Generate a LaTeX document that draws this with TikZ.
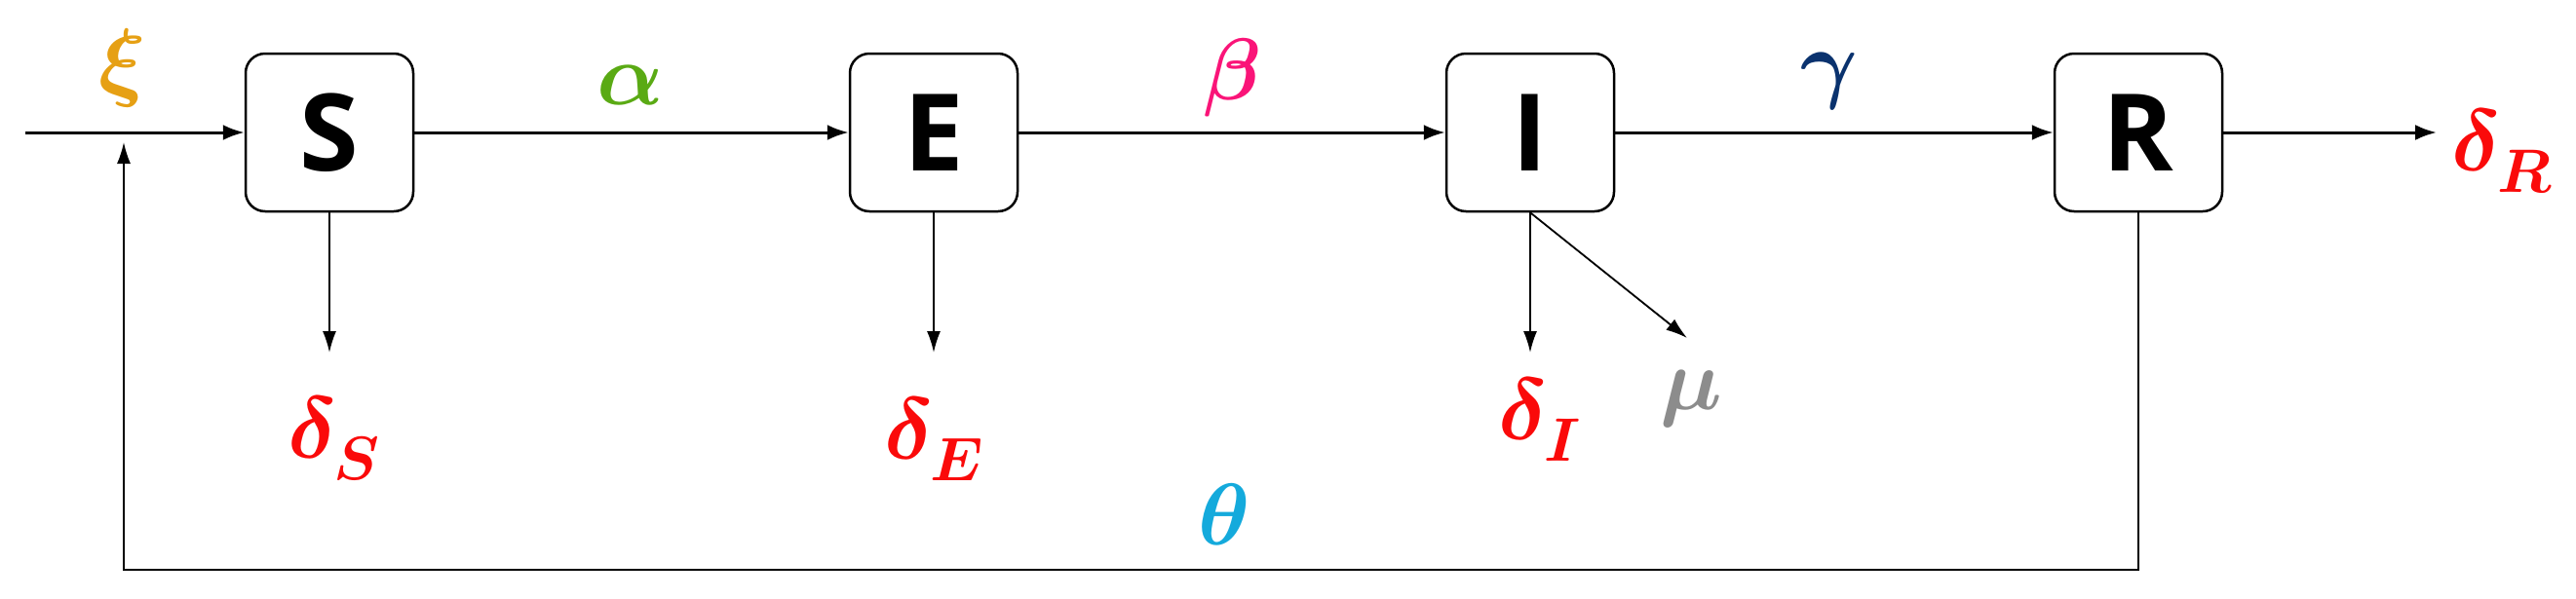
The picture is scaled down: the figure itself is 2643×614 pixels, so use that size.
\documentclass[tikz,border=0pt]{standalone}
\usepackage{fontspec}
\usepackage{unicode-math}
\setmathfont{Latin Modern Math}
\setsansfont{Open Sans}
\usetikzlibrary{arrows.meta}
\definecolor{cxi}{RGB}{230,160,20}
\definecolor{calpha}{RGB}{90,170,20}
\definecolor{cbeta}{RGB}{250,20,120}
\definecolor{cgamma}{RGB}{10,50,110}
\definecolor{ctheta}{RGB}{20,170,220}
\definecolor{cdelta}{RGB}{250,10,10}
\definecolor{cmu}{RGB}{140,140,140}
\begin{document}
\begin{tikzpicture}[x=1pt,y=-1pt,
  comp/.style={draw,line width=2.5pt,rounded corners=20pt,minimum width=172pt,minimum height=162pt,font=\fontsize{110}{120}\selectfont\sffamily\bfseries},
  lab/.style={font=\fontsize{90}{100}\selectfont},
  flow/.style={line width=3pt,-{Latex[length=22pt,width=16pt]}},
  thin/.style={line width=1.8pt,-{Latex[length=22pt,width=14pt]}}]
\useasboundingbox (0,0) rectangle (2643,614);
\node[comp] (S) at (338,136) {S};
\node[comp] (E) at (958,136) {E};
\node[comp] (I) at (1570,136) {I};
\node[comp] (R) at (2194,136) {R};
\coordinate (in) at (26,136);
\coordinate (out) at (2500,136);
\draw[flow] (in) -- (S);
\draw[flow] (S) -- (E);
\draw[flow] (E) -- (I);
\draw[flow] (I) -- (R);
\draw[flow] (R) -- (out);
\coordinate (dS) at (338,362);
\coordinate (dE) at (958,362);
\coordinate (dI) at (1570,362);
\coordinate (dM) at (1731,347);
\draw[thin] (S.south) -- (dS);
\draw[thin] (E.south) -- (dE);
\draw[thin] (I.south) -- (dI);
\draw[thin] (I.south) -- (dM);
\coordinate (c1) at (2194,585);
\coordinate (c2) at (127,585);
\coordinate (c3) at (127,146);
\draw[line width=1.8pt,-{Latex[length=22pt,width=14pt]}] (R.south) -- (c1) -- (c2) -- (c3);
\node[lab,text=cxi] (xi) at (125,70) {$\symbfit{\xi}$};
\node[lab,text=calpha] (al) at (647,88) {$\symbfit{\alpha}$};
\node[lab,text=cbeta] (be) at (1263,80) {$\symbfit{\beta}$};
\node[lab,text=cgamma] (ga) at (1877,84) {$\symbfit{\gamma}$};
\node[lab,text=ctheta] (th) at (1255,528) {$\symbfit{\theta}$};
\node[lab,text=cdelta] (lS) at (343,450) {$\symbfit{\delta}_{\symbfit{S}}$};
\node[lab,text=cdelta] (lE) at (958,450) {$\symbfit{\delta}_{\symbfit{E}}$};
\node[lab,text=cdelta] (lI) at (1580,430) {$\symbfit{\delta}_{\symbfit{I}}$};
\node[lab,text=cmu] (lM) at (1735,410) {$\symbfit{\mu}$};
\node[lab,text=cdelta] (lR) at (2568,155) {$\symbfit{\delta}_{\symbfit{R}}$};
\end{tikzpicture}
\end{document}
